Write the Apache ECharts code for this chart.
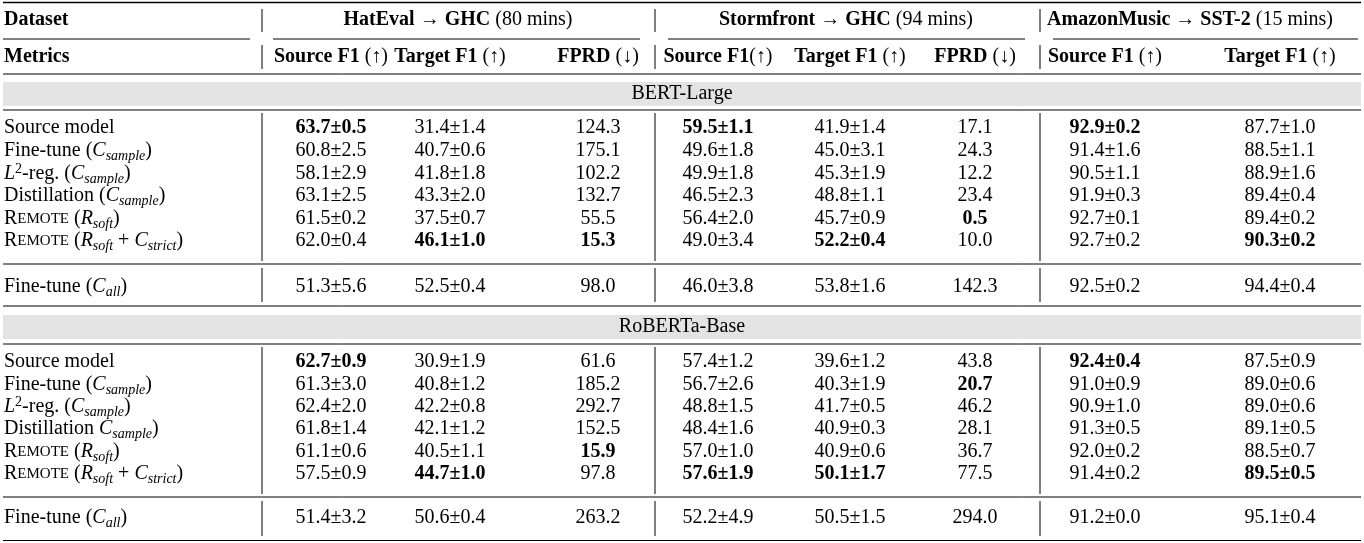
<!DOCTYPE html><html><head><meta charset="utf-8">
<script src="https://cdn.jsdelivr.net/npm/echarts@6/dist/echarts.min.js"></script>
<style>html,body{margin:0;padding:0;background:#fff}#c{width:1364px;height:543px}</style></head><body><div id="c"></div>
<script>
const groups = ["{b|HatEval → GHC} (80 mins)", "{b|Stormfront → GHC} (94 mins)", "{b|AmazonMusic → SST-2} (15 mins)"];
const metrics = ["{b|Source F1} (↑)","{b|Target F1} (↑)","{b|FPRD} (↓)","{b|Source F1}(↑)","{b|Target F1} (↑)","{b|FPRD} (↓)","{b|Source F1} (↑)","{b|Target F1} (↑)"];
const sections = ["BERT-Large", "RoBERTa-Base"];
const rowLabels = [
 "Source model",
 "Fine-tune ({i|C}{sub|sample})",
 "{i|L}{sup|2}-reg. ({i|C}{sub|sample})",
 "Distillation ({i|C}{sub|sample})",
 "R{sc|EMOTE} ({i|R}{sub|soft})",
 "R{sc|EMOTE} ({i|R}{sub|soft} + {i|C}{sub|strict})",
 "Fine-tune ({i|C}{sub|all})"
];
const rowLabels2 = rowLabels.slice(); rowLabels2[3] = "Distillation {i|C}{sub|sample})";
const bertVals = [
 ["*63.7±0.5","31.4±1.4","124.3","*59.5±1.1","41.9±1.4","17.1","*92.9±0.2","87.7±1.0"],
 ["60.8±2.5","40.7±0.6","175.1","49.6±1.8","45.0±3.1","24.3","91.4±1.6","88.5±1.1"],
 ["58.1±2.9","41.8±1.8","102.2","49.9±1.8","45.3±1.9","12.2","90.5±1.1","88.9±1.6"],
 ["63.1±2.5","43.3±2.0","132.7","46.5±2.3","48.8±1.1","23.4","91.9±0.3","89.4±0.4"],
 ["61.5±0.2","37.5±0.7","55.5","56.4±2.0","45.7±0.9","*0.5","92.7±0.1","89.4±0.2"],
 ["62.0±0.4","*46.1±1.0","*15.3","49.0±3.4","*52.2±0.4","10.0","92.7±0.2","*90.3±0.2"],
 ["51.3±5.6","52.5±0.4","98.0","46.0±3.8","53.8±1.6","142.3","92.5±0.2","94.4±0.4"]
];
const robertaVals = [
 ["*62.7±0.9","30.9±1.9","61.6","57.4±1.2","39.6±1.2","43.8","*92.4±0.4","87.5±0.9"],
 ["61.3±3.0","40.8±1.2","185.2","56.7±2.6","40.3±1.9","*20.7","91.0±0.9","89.0±0.6"],
 ["62.4±2.0","42.2±0.8","292.7","48.8±1.5","41.7±0.5","46.2","90.9±1.0","89.0±0.6"],
 ["61.8±1.4","42.1±1.2","152.5","48.4±1.6","40.9±0.3","28.1","91.3±0.5","89.1±0.5"],
 ["61.1±0.6","40.5±1.1","*15.9","57.0±1.0","40.9±0.6","36.7","92.0±0.2","88.5±0.7"],
 ["57.5±0.9","*44.7±1.0","97.8","*57.6±1.9","*50.1±1.7","77.5","91.4±0.2","*89.5±0.5"],
 ["51.4±3.2","50.6±0.4","263.2","52.2±4.9","50.5±1.5","294.0","91.2±0.0","95.1±0.4"]
];

const FONT = "Liberation Serif", FS = 20;
const rich = {
  b:{fontWeight:'bold',fontSize:FS,fontFamily:FONT},
  i:{fontStyle:'italic',fontSize:FS,fontFamily:FONT},
  sub:{fontStyle:'italic',fontSize:14,fontFamily:FONT,verticalAlign:'bottom',lineHeight:24,padding:[7,0,0,0]},
  sup:{fontSize:14,fontFamily:FONT,verticalAlign:'top',padding:[0,0,9,0]},
  sc:{fontSize:15,fontFamily:FONT}
};
const colX = [331,450,598,718,850,975,1105,1280];
const groupX = [458,846,1190];
const sepX = [262,655,1040];
const els = [];
function txt(x,y,s,align,bold){
  els.push({type:'text',x:x,y:y,style:{text:s,x:0,y:0,align:align||'center',verticalAlign:'middle',
    fontFamily:FONT,fontSize:FS,fontWeight:bold?'bold':'normal',fill:'#000',rich:rich}});
}
function hline(x1,x2,y,w){els.push({type:'line',shape:{x1:x1,y1:y,x2:x2,y2:y},style:{stroke:'#000',lineWidth:w||1}});}
function vline(x,y1,y2){els.push({type:'line',shape:{x1:x,y1:y1,x2:x,y2:y2},style:{stroke:'#000',lineWidth:1}});}
function rect(y,h){els.push({type:'rect',shape:{x:3,y:y,width:1358,height:h},style:{fill:'#e3e3e3'}});}

hline(3,1361,2.5,1.6);
txt(4,20,"{b|Dataset}",'left');
groups.forEach((g,k)=>txt(groupX[k],20,g));
hline(3,250,39); hline(273,640,39); hline(668,1025,39); hline(1053,1358,39);
txt(4,57,"{b|Metrics}",'left');
metrics.forEach((m,k)=>txt(colX[k],57,m));
sepX.forEach(x=>{vline(x,9,32);vline(x,45,69);});
hline(3,1361,74);

function block(title, bandY, ys, lastY, labels, vals, topLine, midLine, botLine){
  rect(bandY,24);
  txt(682,bandY+12,title);
  hline(3,1361,topLine);
  for(let r=0;r<7;r++){
    const y = r<6?ys[r]:lastY;
    txt(4,y,labels[r],'left');
    vals[r].forEach((v,k)=>{
      const b=v[0]==='*'; txt(colX[k],y,b?v.slice(1):v,'center',b);
    });
  }
  hline(3,1361,midLine);
  sepX.forEach(x=>{vline(x,topLine+3,midLine-3);vline(x,midLine+4,botLine-4);});
}
block(sections[0],82,[128,151,174,196,219,241],287,rowLabels,bertVals,110,264,306);
hline(3,1361,306);
block(sections[1],315,[362,385,407,429,452,474],518,rowLabels2,robertaVals,344,497,540);
hline(3,1361,540.5,1.2);

const chart = echarts.init(document.getElementById('c'));
chart.setOption({animation:false,graphic:{elements:els}});
</script></body></html>
